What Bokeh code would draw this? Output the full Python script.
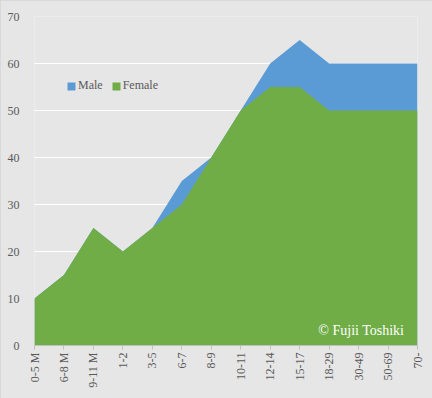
from bokeh.plotting import figure
from bokeh.models import Range1d, FixedTicker, Legend, LegendItem, Label
from bokeh.embed import file_html
from bokeh.resources import INLINE
import math

categories = ["0-5 M", "6-8 M", "9-11 M", "1-2", "3-5", "6-7", "8-9", "10-11",
              "12-14", "15-17", "18-29", "30-49", "50-69", "70-"]
male = [10, 15, 25, 20, 25, 35, 40, 50, 60, 65, 60, 60, 60, 60]
female = [10, 15, 25, 20, 25, 30, 40, 50, 55, 55, 50, 50, 50, 50]
y_ticks = [0, 10, 20, 30, 40, 50, 60, 70]

BG = "#E6E6E6"
TXT = "#595959"
FONT = "Liberation Serif"

xs = list(range(len(categories)))

p = figure(width=432, height=398, output_backend="svg", toolbar_location=None,
           x_range=Range1d(0, len(categories) - 1), y_range=Range1d(0, 70),
           min_border_left=34, min_border_right=15, min_border_top=16, min_border_bottom=53)
p.background_fill_color = BG
p.border_fill_color = BG
p.outline_line_color = None
p.styles = {"box-shadow": "inset 0 0 0 1px #D4D4D4"}

r_m = p.varea(x=xs, y1=[0] * len(xs), y2=male, fill_color="#5B9BD5")
r_f = p.varea(x=xs, y1=[0] * len(xs), y2=female, fill_color="#70AD47")

p.xaxis.ticker = FixedTicker(ticks=xs)
p.xaxis.major_label_overrides = {i: c for i, c in enumerate(categories)}
p.xaxis.major_label_orientation = math.pi / 2
p.xaxis.axis_line_color = "#BFBFBF"
p.xaxis.major_tick_line_color = "#BFBFBF"
p.xaxis.major_tick_in = 0
p.xaxis.major_tick_out = 4
p.xaxis.minor_tick_line_color = None
p.xaxis.major_label_text_font = FONT
p.xaxis.major_label_text_font_size = "12px"
p.xaxis.major_label_text_color = TXT
p.xaxis.major_label_standoff = 3

p.yaxis.ticker = FixedTicker(ticks=y_ticks)
p.yaxis.axis_line_color = None
p.yaxis.major_tick_line_color = None
p.yaxis.minor_tick_line_color = None
p.yaxis.major_label_text_font = FONT
p.yaxis.major_label_text_font_size = "12px"
p.yaxis.major_label_text_color = TXT
p.yaxis.major_label_standoff = 9

p.xgrid.grid_line_color = None
p.ygrid.grid_line_color = "white"
p.ygrid.grid_line_width = 1
p.ygrid.ticker = FixedTicker(ticks=y_ticks)

legend = Legend(items=[LegendItem(label="Male", renderers=[r_m]),
                       LegendItem(label="Female", renderers=[r_f])],
                orientation="horizontal", location=(32, 252),
                background_fill_alpha=0, border_line_color=None,
                label_text_font=FONT, label_text_font_size="12px",
                label_text_color=TXT, glyph_width=10, glyph_height=10,
                label_standoff=2, spacing=8, padding=2, margin=0)
p.add_layout(legend, "center")

p.add_layout(Label(x=12.55, y=3.2, text="© Fujii Toshiki", text_align="right",
                   text_baseline="middle", text_color="white", text_font=FONT,
                   text_font_size="14px"))

open("out.html", "w").write(file_html(p, INLINE))
